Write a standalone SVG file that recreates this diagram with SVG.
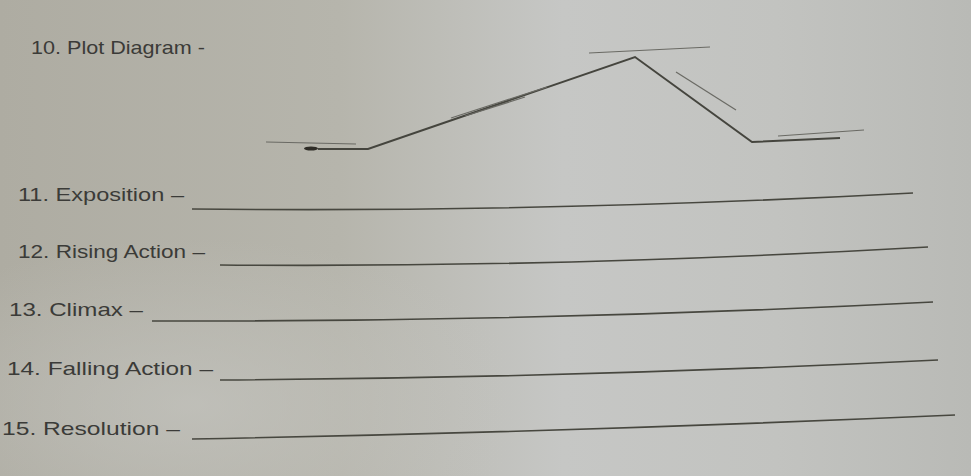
<svg xmlns="http://www.w3.org/2000/svg" width="971" height="476" viewBox="0 0 971 476">
<defs>
<linearGradient id="bg" x1="0" y1="0" x2="1" y2="0">
<stop offset="0" stop-color="#aeaca2"/>
<stop offset="0.35" stop-color="#b6b5ac"/>
<stop offset="0.58" stop-color="#c6c7c5"/>
<stop offset="0.8" stop-color="#c2c3c0"/>
<stop offset="1" stop-color="#b9bab6"/>
</linearGradient>
<radialGradient id="glow" cx="0.2" cy="0.85" r="0.35">
<stop offset="0" stop-color="#c4c4bf" stop-opacity="0.7"/>
<stop offset="1" stop-color="#c4c4bf" stop-opacity="0"/>
</radialGradient>
<style>
.t{font-family:"Liberation Sans",Arial,sans-serif;font-size:19px;fill:#3b3b38}
.blank{fill:none;stroke:#47473f;stroke-width:1.6}
.plot{fill:none;stroke:#45453e;stroke-width:2;stroke-linejoin:miter}
.pb{fill:none;stroke:#6a6a64;stroke-width:1.2}
</style>
</defs>
<rect width="971" height="476" fill="url(#bg)"/>
<rect width="971" height="476" fill="url(#glow)"/>
<g id="title"><text class="t" x="31" y="54" textLength="174" lengthAdjust="spacingAndGlyphs">10. Plot Diagram -</text></g>
<g id="plot-diagram">
<g id="connectors">
<polyline class="plot" points="318,149 368,149 635,57 752,142 840,138"/>
<ellipse cx="311" cy="148.5" rx="7" ry="2" fill="#2e2c26"/>
</g>
<g id="blank-exposition"><line class="pb" x1="266" y1="142" x2="356" y2="144"/></g>
<g id="blank-rising"><line class="pb" x1="451" y1="118" x2="547" y2="87"/><line class="pb" x1="465" y1="116" x2="525" y2="97"/></g>
<g id="blank-climax"><line class="pb" x1="589" y1="53" x2="710" y2="47"/></g>
<g id="blank-falling"><line class="pb" x1="676" y1="72" x2="736" y2="110"/></g>
<g id="blank-resolution"><line class="pb" x1="778" y1="136" x2="864" y2="130"/></g>
</g>
<g id="q11"><text class="t" x="18" y="201" textLength="166" lengthAdjust="spacingAndGlyphs">11. Exposition –</text><path class="blank" d="M192,209 Q540,213 913,193"/></g>
<g id="q12"><text class="t" x="18" y="258" textLength="187" lengthAdjust="spacingAndGlyphs">12. Rising Action –</text><path class="blank" d="M220,265 Q560,268 928,247"/></g>
<g id="q13"><text class="t" x="9" y="316" textLength="134" lengthAdjust="spacingAndGlyphs">13. Climax –</text><path class="blank" d="M152,321 Q540,322 933,302"/></g>
<g id="q14"><text class="t" x="7" y="375" textLength="206" lengthAdjust="spacingAndGlyphs">14. Falling Action –</text><path class="blank" d="M220,380 Q570,378 938,360"/></g>
<g id="q15"><text class="t" x="2" y="435" textLength="178" lengthAdjust="spacingAndGlyphs">15. Resolution –</text><path class="blank" d="M192,439 Q570,432 955,415"/></g>
</svg>
